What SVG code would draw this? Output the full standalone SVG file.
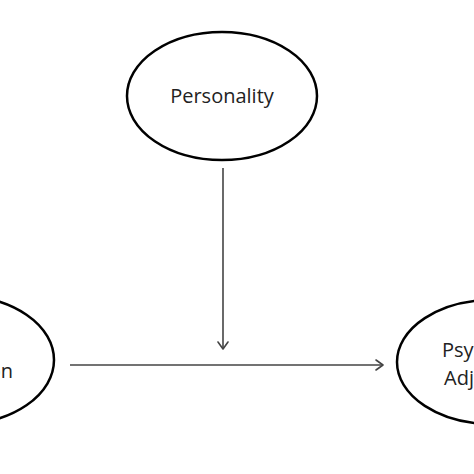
<svg xmlns="http://www.w3.org/2000/svg" width="474" height="474" viewBox="0 0 474 474">
<style>
.node ellipse{fill:#fff;stroke:#000;stroke-width:2.5}
.node text{font-family:"Open Sans","Liberation Sans",sans-serif;font-size:20px;fill:#222}
.conn line{stroke:#444;stroke-width:1.6;fill:none}
.conn path{stroke:#444;stroke-width:1.6;fill:none;stroke-linecap:round;stroke-linejoin:round}
</style>
<rect width="474" height="474" fill="#fff"/>
<g id="personality" class="node">
<ellipse cx="222" cy="96" rx="95" ry="64"/>
<text x="222" y="103" text-anchor="middle">Personality</text>
</g>
<g id="left-node" class="node">
<ellipse cx="-40" cy="360" rx="94" ry="64"/>
<text x="13" y="378" text-anchor="end">Perception</text>
</g>
<g id="right-node" class="node">
<ellipse cx="492" cy="362" rx="95" ry="62"/>
<text x="442" y="357">Psychological</text>
<text x="444" y="385">Adjustment</text>
</g>
<g id="connectors" class="conn">
<line x1="223" y1="168" x2="223" y2="349"/>
<path d="M218 342 L223 349 L228 342"/>
<line x1="70" y1="365" x2="383" y2="365" stroke-width="2"/>
<path d="M376 360 L383 365 L376 370"/>
</g>
</svg>
